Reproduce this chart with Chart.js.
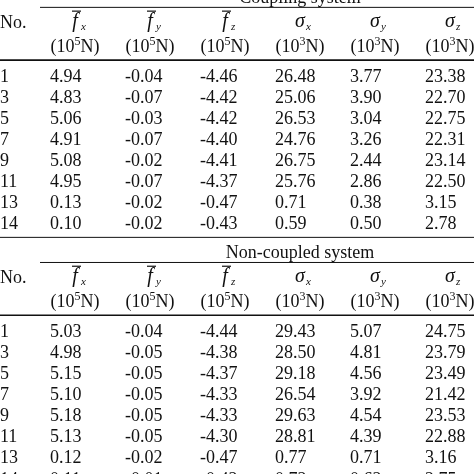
<!DOCTYPE html>
<html><head><meta charset="utf-8">
<script src="https://cdn.jsdelivr.net/npm/chart.js@4"></script>
<style>html,body{margin:0;padding:0;background:#fff}#w{width:474px;height:474px}</style>
</head><body><div id="w"><canvas id="c"></canvas></div>
<script>
const titles = ["Coupling system", "Non-coupled system"];
const rowLabels = ["1","3","5","7","9","11","13","14"];
const symbols = [["f","x",true],["f","y",true],["f","z",true],["\u03c3","x",false],["\u03c3","y",false],["\u03c3","z",false]];
const units = ["5","5","5","3","3","3"];
const coupled = [
 ["4.94","-0.04","-4.46","26.48","3.77","23.38"],
 ["4.83","-0.07","-4.42","25.06","3.90","22.70"],
 ["5.06","-0.03","-4.42","26.53","3.04","22.75"],
 ["4.91","-0.07","-4.40","24.76","3.26","22.31"],
 ["5.08","-0.02","-4.41","26.75","2.44","23.14"],
 ["4.95","-0.07","-4.37","25.76","2.86","22.50"],
 ["0.13","-0.02","-0.47","0.71","0.38","3.15"],
 ["0.10","-0.02","-0.43","0.59","0.50","2.78"]];
const noncoupled = [
 ["5.03","-0.04","-4.44","29.43","5.07","24.75"],
 ["4.98","-0.05","-4.38","28.50","4.81","23.79"],
 ["5.15","-0.05","-4.37","29.18","4.56","23.49"],
 ["5.10","-0.05","-4.33","26.54","3.92","21.42"],
 ["5.18","-0.05","-4.33","29.63","4.54","23.53"],
 ["5.13","-0.05","-4.30","28.81","4.39","22.88"],
 ["0.12","-0.02","-0.47","0.77","0.71","3.16"],
 ["0.11","-0.01","-0.42","0.72","0.62","2.75"]];
const blocks = [{data:coupled,start:0},{data:noncoupled,start:12.09}];
const F = "Liberation Serif";
const tablePlugin = {
 id:'table',
 afterDraw(ch){
  const c=ch.ctx, xs=ch.scales.x, ys=ch.scales.y;
  const X=i=>xs.getPixelForValue(i), Y=k=>ys.getPixelForValue(k);
  c.save(); c.fillStyle='#111'; c.strokeStyle='#111'; c.textBaseline='middle';
  const line=(k,x0,w)=>{c.lineWidth=w;c.beginPath();c.moveTo(x0,Y(k));c.lineTo(474,Y(k));c.stroke();};
  blocks.forEach((b,bi)=>{
   const s=b.start;
   c.font='18px "'+F+'"'; c.textAlign='center';
   c.fillText(titles[bi],X(4)+25,Y(s-3.72));
   line(s-3.3,40,1);
   c.textAlign='left'; c.fillText("No.",0,Y(s-2.55));
   symbols.forEach((sy,j)=>{
    const cx=X(j+1)+25;
    c.font='italic 20px "'+F+'"'; c.textAlign='center';
    const y=Y(s-2.6);
    c.fillText(sy[0],cx,y);
    if(sy[2]){c.lineWidth=1.2;c.beginPath();c.moveTo(cx-3,y-11);c.lineTo(cx+6,y-11);c.stroke();}
    c.font='italic 11px "'+F+'"'; c.textAlign='left';
    c.fillText(sy[1],cx+6,y+5);
    const uy=Y(s-1.42);
    const a="(10",bN="N)";
    c.font='18px "'+F+'"'; const wa=c.measureText(a).width, wb=c.measureText(bN).width;
    c.font='12px "'+F+'"'; const ws=c.measureText(units[j]).width;
    let x0=cx-(wa+ws+wb)/2;
    c.font='18px "'+F+'"'; c.fillText(a,x0,uy);
    c.font='12px "'+F+'"'; c.fillText(units[j],x0+wa,uy-5);
    c.font='18px "'+F+'"'; c.fillText(bN,x0+wa+ws,uy);
   });
   line(s-0.8,0,1.6);
   c.font='18px "'+F+'"'; c.textAlign='left';
   b.data.forEach((r,ri)=>{
    const y=Y(s+ri);
    c.fillText(rowLabels[ri],0,y);
    r.forEach((v,j)=>c.fillText(v,X(j+1),y));
   });
   if(bi===0) line(s+7.6,0,1);
  });
  c.restore();
 }
};
new Chart(document.getElementById('c'),{
 type:'scatter',
 data:{datasets:[{data:[],pointRadius:0}]},
 options:{responsive:true,maintainAspectRatio:false,animation:false,
  layout:{padding:0},
  plugins:{legend:{display:false},tooltip:{enabled:false}},
  scales:{
   x:{type:'linear',display:false,min:1/3,max:1/3+474/75,grid:{display:false}},
   y:{type:'linear',display:false,reverse:true,min:-77/21.1,max:(474-77)/21.1}
  }},
 plugins:[tablePlugin]
});
</script></body></html>
